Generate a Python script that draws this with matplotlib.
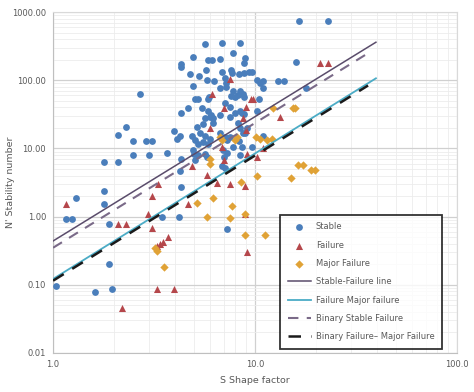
import matplotlib
matplotlib.use("Agg")
import matplotlib.pyplot as plt
from matplotlib.ticker import FixedLocator, FixedFormatter, LogLocator, NullFormatter

# ---- data ----
stable_S = [2.70, 2.30, 2.10, 2.49, 2.89, 3.09, 1.79, 2.10, 2.49, 2.99, 1.30, 1.79, 1.16, 1.24,
            1.79, 1.89, 1.89, 1.03, 1.61, 1.96, 16.5, 23.0, 5.65, 6.86, 8.43, 7.78, 4.93, 5.85,
            6.12, 6.71, 8.92, 8.82, 4.30, 4.30, 16.0, 5.72, 4.77, 6.86, 7.61, 7.70, 8.33, 8.82,
            9.34, 9.66, 5.28, 5.78, 6.27, 7.10, 7.18, 7.18, 10.2, 11.0, 10.6, 11.0, 13.0, 13.9,
            4.93, 6.71, 7.78, 8.43, 8.72, 8.24, 7.61, 7.96, 8.82, 5.92, 5.85, 5.05, 5.22, 10.5,
            4.66, 4.30, 5.47, 5.85, 6.05, 6.20, 7.52, 7.52, 8.43, 8.62, 8.82, 10.2, 5.65, 6.71,
            17.9, 3.97, 4.25, 4.11, 5.16, 5.53, 4.88, 5.35, 5.65, 5.98, 5.53, 5.22, 5.05, 5.85,
            7.10, 7.27, 7.52, 8.24, 8.43, 8.72, 9.13, 8.92, 6.94, 7.27, 7.02, 7.78, 8.33, 9.66,
            8.62, 11.0, 4.93, 4.99, 5.22, 4.30, 5.65, 5.78, 8.43, 4.25, 6.86, 7.10, 4.30, 3.46,
            4.20, 7.27, 3.67, 5.05, 7.10, 5.98, 6.71, 6.20, 7.96]
stable_N = [62, 21, 16, 13, 13, 13, 6.4, 6.4, 7.9, 7.9, 1.9, 2.4, 0.93, 0.93,
            1.55, 0.79, 0.20, 0.097, 0.079, 0.087, 740, 740, 338, 350, 350, 250, 218, 197,
            197, 204, 211, 178, 172, 155, 184, 140, 122, 131, 140, 127, 122, 127,
            131, 131, 115, 100, 97, 107, 90, 79, 100, 97, 90, 76, 97, 97,
            82, 76, 69, 69, 62, 60, 58, 56, 56, 56, 53, 53, 53, 54,
            39, 33, 39, 36, 31, 28, 40, 29, 36, 33, 32, 35, 28, 31,
            76, 18, 15.5, 14, 21, 23, 15.5, 16.6, 15, 13.6, 12.3, 11.5, 13.1, 11.5,
            14.5, 13.1, 14.5, 24, 20, 17, 20, 16.6, 9.4, 8.7, 7.4, 10.4, 12.7, 10.4,
            10.4, 15.5, 9.4, 8.4, 7.9, 6.9, 8.4, 7.4, 7.9, 4.75, 5.6, 5.1, 2.7, 1.0,
            1.0, 0.67, 8.7, 6.7, 46, 29, 17, 24, 33]

failure_S = [1.16, 2.95, 2.10, 2.30, 3.09, 3.31, 3.09, 3.71, 3.50, 3.39, 3.27, 3.27, 3.97,
             2.20, 4.66, 5.78, 6.49, 7.52, 8.92, 9.13, 8.92, 7.52, 6.12, 9.55, 9.77, 7.02,
             9.03, 8.72, 13.3, 5.98, 9.03, 6.86, 11.0, 4.88, 9.13, 10.2, 7.02, 21.0, 23.0]
failure_N = [1.55, 1.11, 0.79, 0.79, 2.04, 3.06, 0.69, 0.51, 0.43, 0.40, 0.375, 0.087, 0.087,
             0.046, 1.55, 4.15, 3.16, 3.06, 2.86, 0.30, 1.11, 103, 64, 54, 54, 39,
             40, 28, 29, 20, 18.4, 10.4, 10.0, 5.6, 8.2, 7.6, 6.7, 178, 178]

major_S = [3.20, 3.27, 3.54, 6.20, 5.16, 7.70, 5.78, 7.52, 8.92, 8.92, 11.2, 8.53, 10.2,
           15.1, 16.3, 17.3, 18.9, 19.8, 12.3, 15.4, 15.8, 10.1, 10.6, 11.5, 12.1, 6.71,
           6.86, 8.15, 7.96, 5.98, 5.98]
major_N = [0.35, 0.31, 0.18, 1.9, 1.61, 1.45, 1.0, 0.97, 1.11, 0.54, 0.54, 3.27, 4.0,
           3.75, 5.8, 5.8, 4.9, 4.9, 39, 39, 39, 14.5, 13.6, 13.1, 13.6, 14.5,
           13.1, 14.5, 13.1, 7.1, 6.0]

sf_line_S = [1.0, 39.7]
sf_line_N = [0.44, 362]
fm_line_S = [1.0, 39.7]
fm_line_N = [0.122, 107]
bin_sf_S = [1.0, 36.3]
bin_sf_N = [0.35, 250]
bin_fm_S = [1.0, 36.3]
bin_fm_N = [0.115, 84]

x_ticks = [1, 10, 100]
x_labels = ["1.0", "10.0", "100.0"]
y_ticks = [0.01, 0.1, 1, 10, 100, 1000]
y_labels = ["0.01", "0.10", "1.00", "10.00", "100.00", "1000.00"]

# ---- figure ----
fig = plt.figure(figsize=(4.74, 3.92), dpi=100)
ax = fig.add_axes([0.112, 0.0995, 0.852, 0.8695])
ax.set_xscale("log")
ax.set_yscale("log")
ax.set_xlim(1, 100)
ax.set_ylim(0.01, 1000)

ax.xaxis.set_major_locator(FixedLocator(x_ticks))
ax.xaxis.set_major_formatter(FixedFormatter(x_labels))
ax.yaxis.set_major_locator(FixedLocator(y_ticks))
ax.yaxis.set_major_formatter(FixedFormatter(y_labels))
ax.xaxis.set_minor_locator(LogLocator(base=10, subs=range(2, 10)))
ax.yaxis.set_minor_locator(LogLocator(base=10, subs=range(2, 10)))
ax.xaxis.set_minor_formatter(NullFormatter())
ax.yaxis.set_minor_formatter(NullFormatter())

ax.grid(True, which="major", color="#d0d0d0", lw=0.9)
ax.grid(True, which="minor", color="#ececec", lw=0.6)
ax.set_axisbelow(True)
for s in ax.spines.values():
    s.set_color("#d9d9d9")
ax.spines["left"].set_color("#bfbfbf")
ax.spines["bottom"].set_color("#bfbfbf")
ax.tick_params(which="both", length=0, labelsize=6, labelcolor="#595959", pad=5)

ax.scatter(stable_S, stable_N, s=24, marker="o", color="#4a7ebb", label="Stable", zorder=3, linewidths=0)
ax.scatter(failure_S, failure_N, s=26, marker="^", color="#b5474b", label="Failure", zorder=3, linewidths=0)
ax.scatter(major_S, major_N, s=18, marker="D", color="#e0a236", label="Major Failure", zorder=3, linewidths=0)

ax.plot(sf_line_S, sf_line_N, color="#5a4c6b", lw=1.1, label="Stable-Failure line", zorder=4)
ax.plot(fm_line_S, fm_line_N, color="#4bacc6", lw=1.3, label="Failure Major failure", zorder=4)
ax.plot(bin_sf_S, bin_sf_N, color="#7a6a88", lw=1.5, ls=(0, (5, 4)), label="Binary Stable Failure", zorder=4)
ax.plot(bin_fm_S, bin_fm_N, color="#1a1a1a", lw=1.8, ls=(0, (5, 4)), label="Binary Failure\u2013 Major Failure", zorder=5)

ax.set_xlabel("S Shape factor", fontsize=6.8, color="#595959", labelpad=5)
ax.set_ylabel("N' Stability number", fontsize=6.8, color="#595959")
ax.yaxis.set_label_coords(-0.095, 0.5)

leg = ax.legend(loc="lower left", bbox_to_anchor=(0.562, 0.012), fontsize=6,
                frameon=True, fancybox=False, edgecolor="black", handlelength=2.8,
                labelspacing=1.12, borderpad=0.9, handletextpad=0.6, borderaxespad=0)
leg.get_frame().set_linewidth(1.3)
for t in leg.get_texts():
    t.set_color("#595959")

fig.savefig("out.png", dpi=100)
